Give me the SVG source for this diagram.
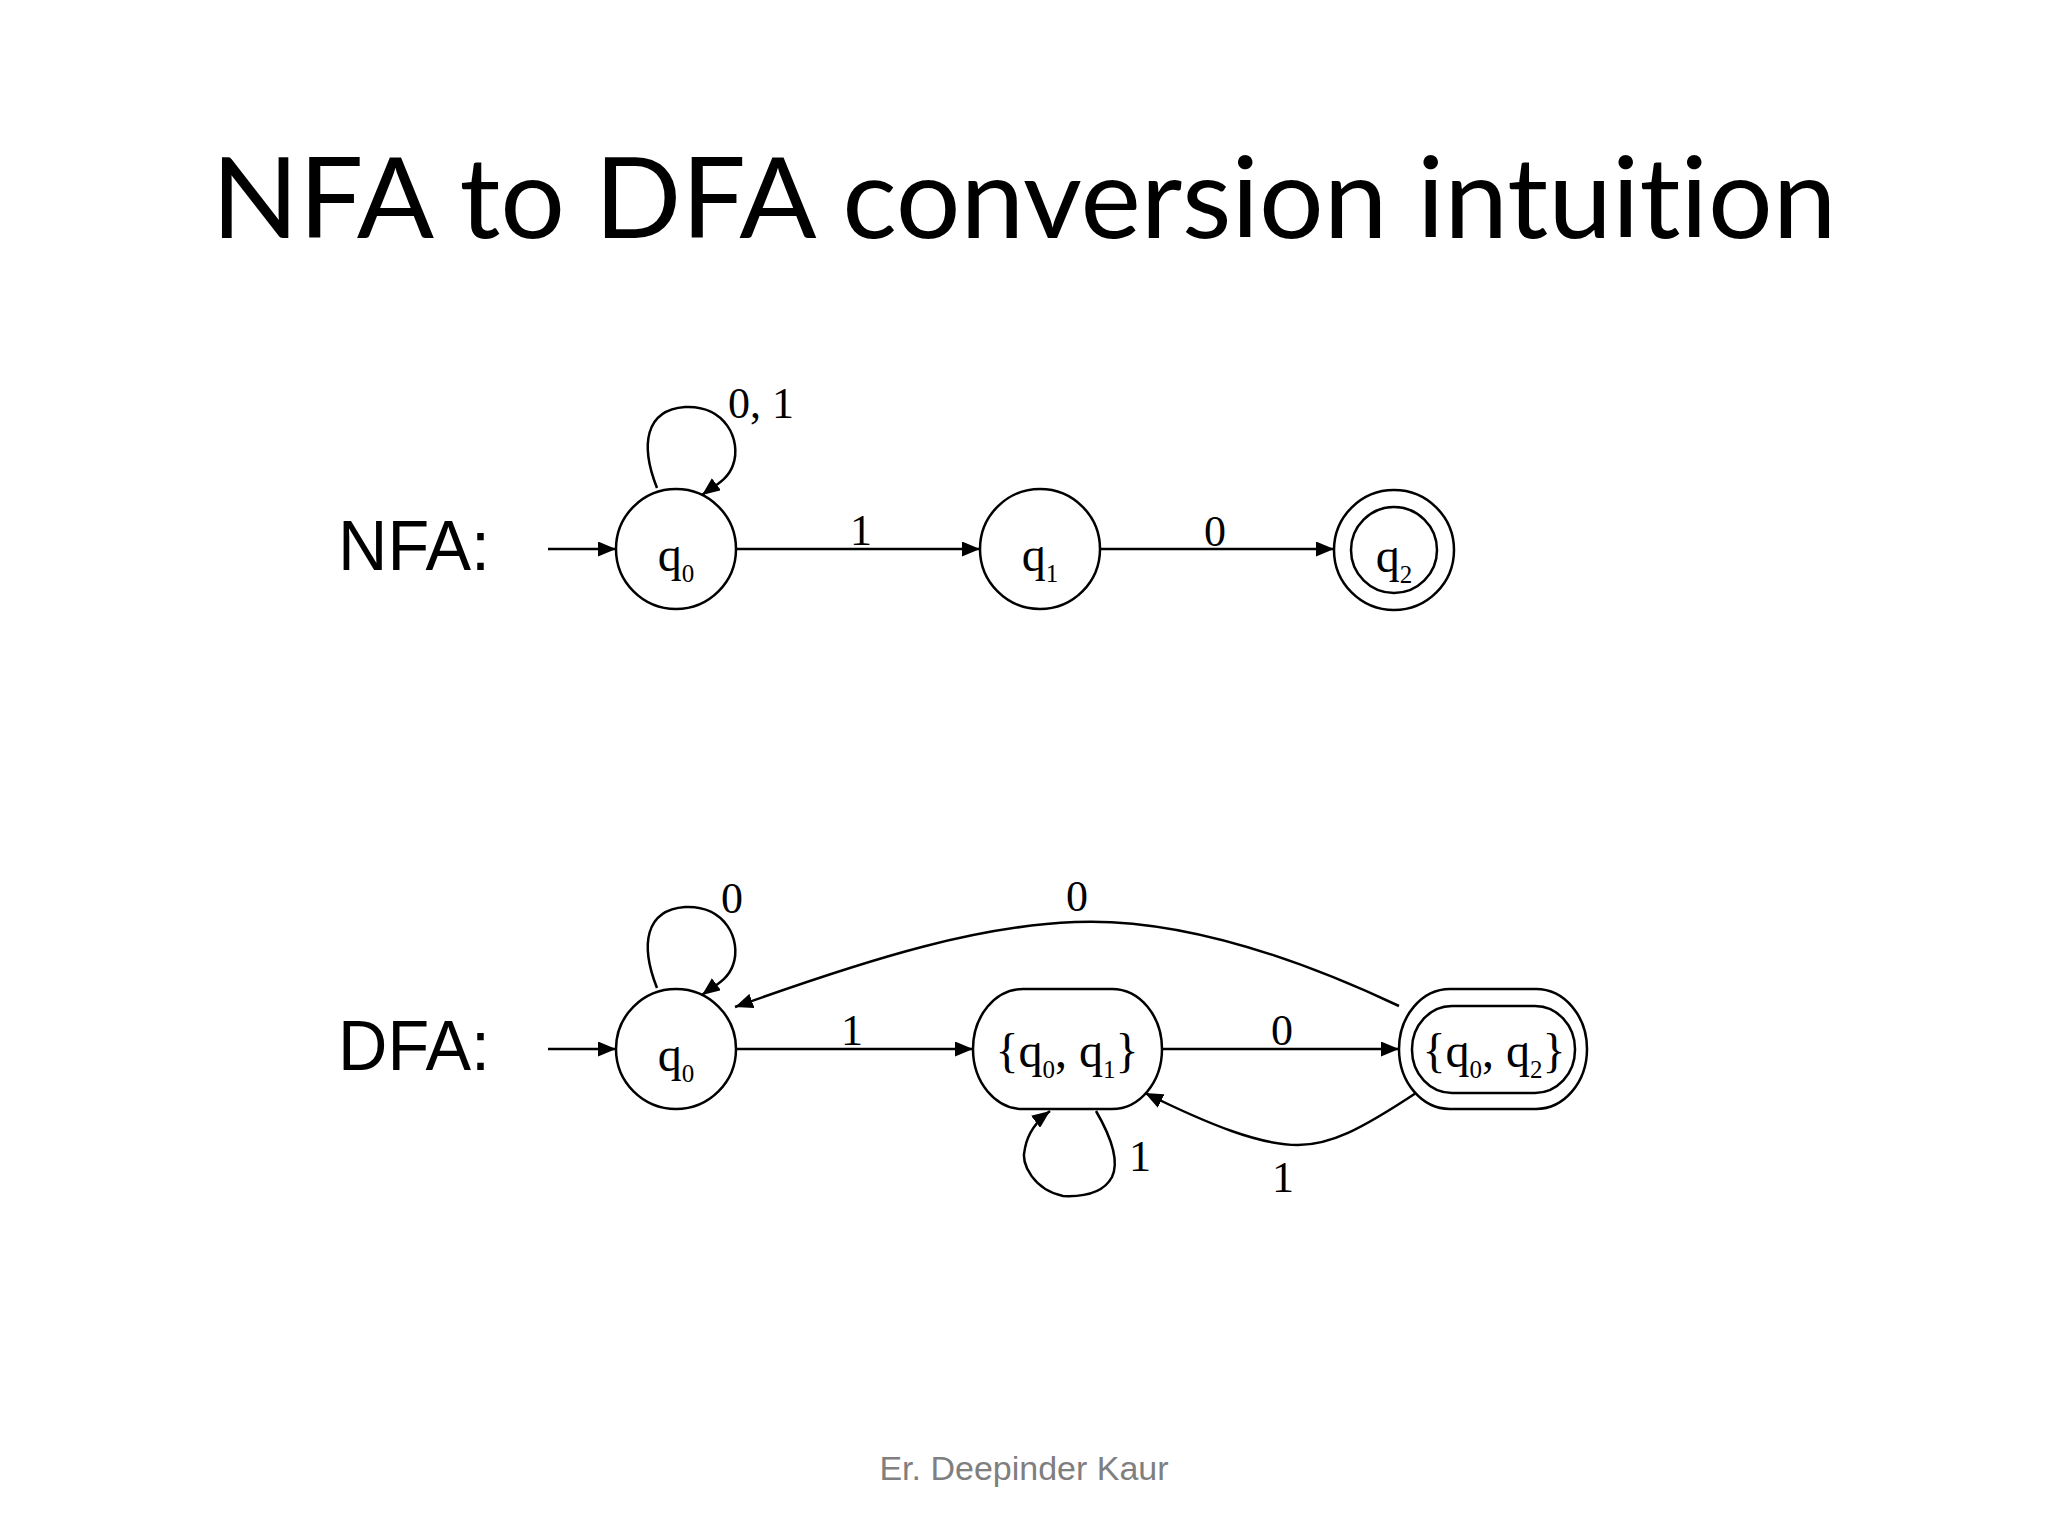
<svg xmlns="http://www.w3.org/2000/svg" width="2048" height="1536" viewBox="0 0 2048 1536">
<style>
.st{fill:#fff;stroke:#000;stroke-width:2.5}
.ed{fill:none;stroke:#000;stroke-width:2.5}
.lb{font-family:"Liberation Serif","Times New Roman",serif;font-size:48px;fill:#000}
.el{font-family:"Liberation Serif","Times New Roman",serif;font-size:44px;fill:#000}
.sub{font-size:25px}
.hd{font-family:"Liberation Sans",Arial,sans-serif;font-size:70px;fill:#000}
#title{font-variant-ligatures:none;font-feature-settings:"liga" 0}
</style>
<defs>
<marker id="ah" markerUnits="userSpaceOnUse" markerWidth="18" markerHeight="15" refX="18" refY="7.5" orient="auto">
<path d="M0,0 L18,7.5 L0,15 z" fill="#000"/>
</marker>
</defs>
<rect width="2048" height="1536" fill="#fff"/>
<text id="title" x="1024" y="238" text-anchor="middle" font-family="Lato,'Open Sans',sans-serif" font-size="112" textLength="1625" lengthAdjust="spacingAndGlyphs" fill="#000">NFA to DFA conversion intuition</text>
<text class="hd" x="338" y="570" textLength="152" lengthAdjust="spacingAndGlyphs">NFA:</text>
<text class="hd" x="338" y="1070" textLength="152" lengthAdjust="spacingAndGlyphs">DFA:</text>

<g id="connectors">
<!-- NFA -->
<line class="ed" x1="548" y1="549" x2="616" y2="549" marker-end="url(#ah)"/>
<path class="ed" d="M657,488 C640,445 645,410 685,407 C725,405 742,440 733,465 C728,480 714,486 702,495" marker-end="url(#ah)"/>
<line class="ed" x1="736" y1="549" x2="980" y2="549" marker-end="url(#ah)"/>
<line class="ed" x1="1100" y1="549" x2="1334" y2="549" marker-end="url(#ah)"/>
<!-- DFA -->
<line class="ed" x1="548" y1="1049" x2="616" y2="1049" marker-end="url(#ah)"/>
<path class="ed" d="M657,988 C640,945 645,910 685,907 C725,905 742,940 733,965 C728,980 714,986 702,995" marker-end="url(#ah)"/>
<line class="ed" x1="736" y1="1049" x2="973" y2="1049" marker-end="url(#ah)"/>
<line class="ed" x1="1162" y1="1049" x2="1399" y2="1049" marker-end="url(#ah)"/>
<path class="ed" d="M1096,1111 C1110,1135 1120,1160 1112,1177 C1104,1192 1085,1197 1063,1196 C1035,1190 1020,1165 1025,1148 C1028,1132 1038,1120 1050,1111" marker-end="url(#ah)"/>
<path class="ed" d="M1399,1006 C1280,950 1170,918 1075,922 C980,926 880,955 735,1007" marker-end="url(#ah)"/>
<path class="ed" d="M1416,1093 C1360,1130 1330,1145 1298,1145 C1260,1145 1210,1125 1145,1093" marker-end="url(#ah)"/>
<g class="el">
<text x="728" y="418">0, 1</text>
<text x="861" y="545" text-anchor="middle">1</text>
<text x="1215" y="546" text-anchor="middle">0</text>
<text x="732" y="913" text-anchor="middle">0</text>
<text x="852" y="1045" text-anchor="middle">1</text>
<text x="1282" y="1045" text-anchor="middle">0</text>
<text x="1077" y="911" text-anchor="middle">0</text>
<text x="1140" y="1171" text-anchor="middle">1</text>
<text x="1283" y="1192" text-anchor="middle">1</text>
</g>
</g>

<g id="nfa_q0">
<circle class="st" cx="676" cy="549" r="60"/>
<text class="lb" x="676" y="571" text-anchor="middle">q<tspan class="sub" dy="11">0</tspan></text>
</g>
<g id="nfa_q1">
<circle class="st" cx="1040" cy="549" r="60"/>
<text class="lb" x="1040" y="571" text-anchor="middle">q<tspan class="sub" dy="11">1</tspan></text>
</g>
<g id="nfa_q2">
<circle class="st" cx="1394" cy="550" r="60"/>
<circle class="st" cx="1394" cy="550" r="43"/>
<text class="lb" x="1394" y="572" text-anchor="middle">q<tspan class="sub" dy="11">2</tspan></text>
</g>

<g id="dfa_q0">
<circle class="st" cx="676" cy="1049" r="60"/>
<text class="lb" x="676" y="1071" text-anchor="middle">q<tspan class="sub" dy="11">0</tspan></text>
</g>
<g id="dfa_q0q1">
<rect class="st" x="973" y="989" width="189" height="120" rx="50" ry="60"/>
<text class="lb" x="1067" y="1067" text-anchor="middle">{q<tspan class="sub" dy="11">0</tspan><tspan dy="-11">, q</tspan><tspan class="sub" dy="11">1</tspan><tspan dy="-11">}</tspan></text>
</g>
<g id="dfa_q0q2">
<rect class="st" x="1399" y="989" width="188" height="120" rx="51" ry="60"/>
<rect class="st" x="1412" y="1006" width="163" height="87" rx="40" ry="43"/>
<text class="lb" x="1494" y="1067" text-anchor="middle">{q<tspan class="sub" dy="11">0</tspan><tspan dy="-11">, q</tspan><tspan class="sub" dy="11">2</tspan><tspan dy="-11">}</tspan></text>
</g>

<text id="footer" x="1024" y="1480" text-anchor="middle" font-family="'Liberation Sans',Arial,sans-serif" font-size="34" fill="#7f7f7f">Er. Deepinder Kaur</text>
</svg>
